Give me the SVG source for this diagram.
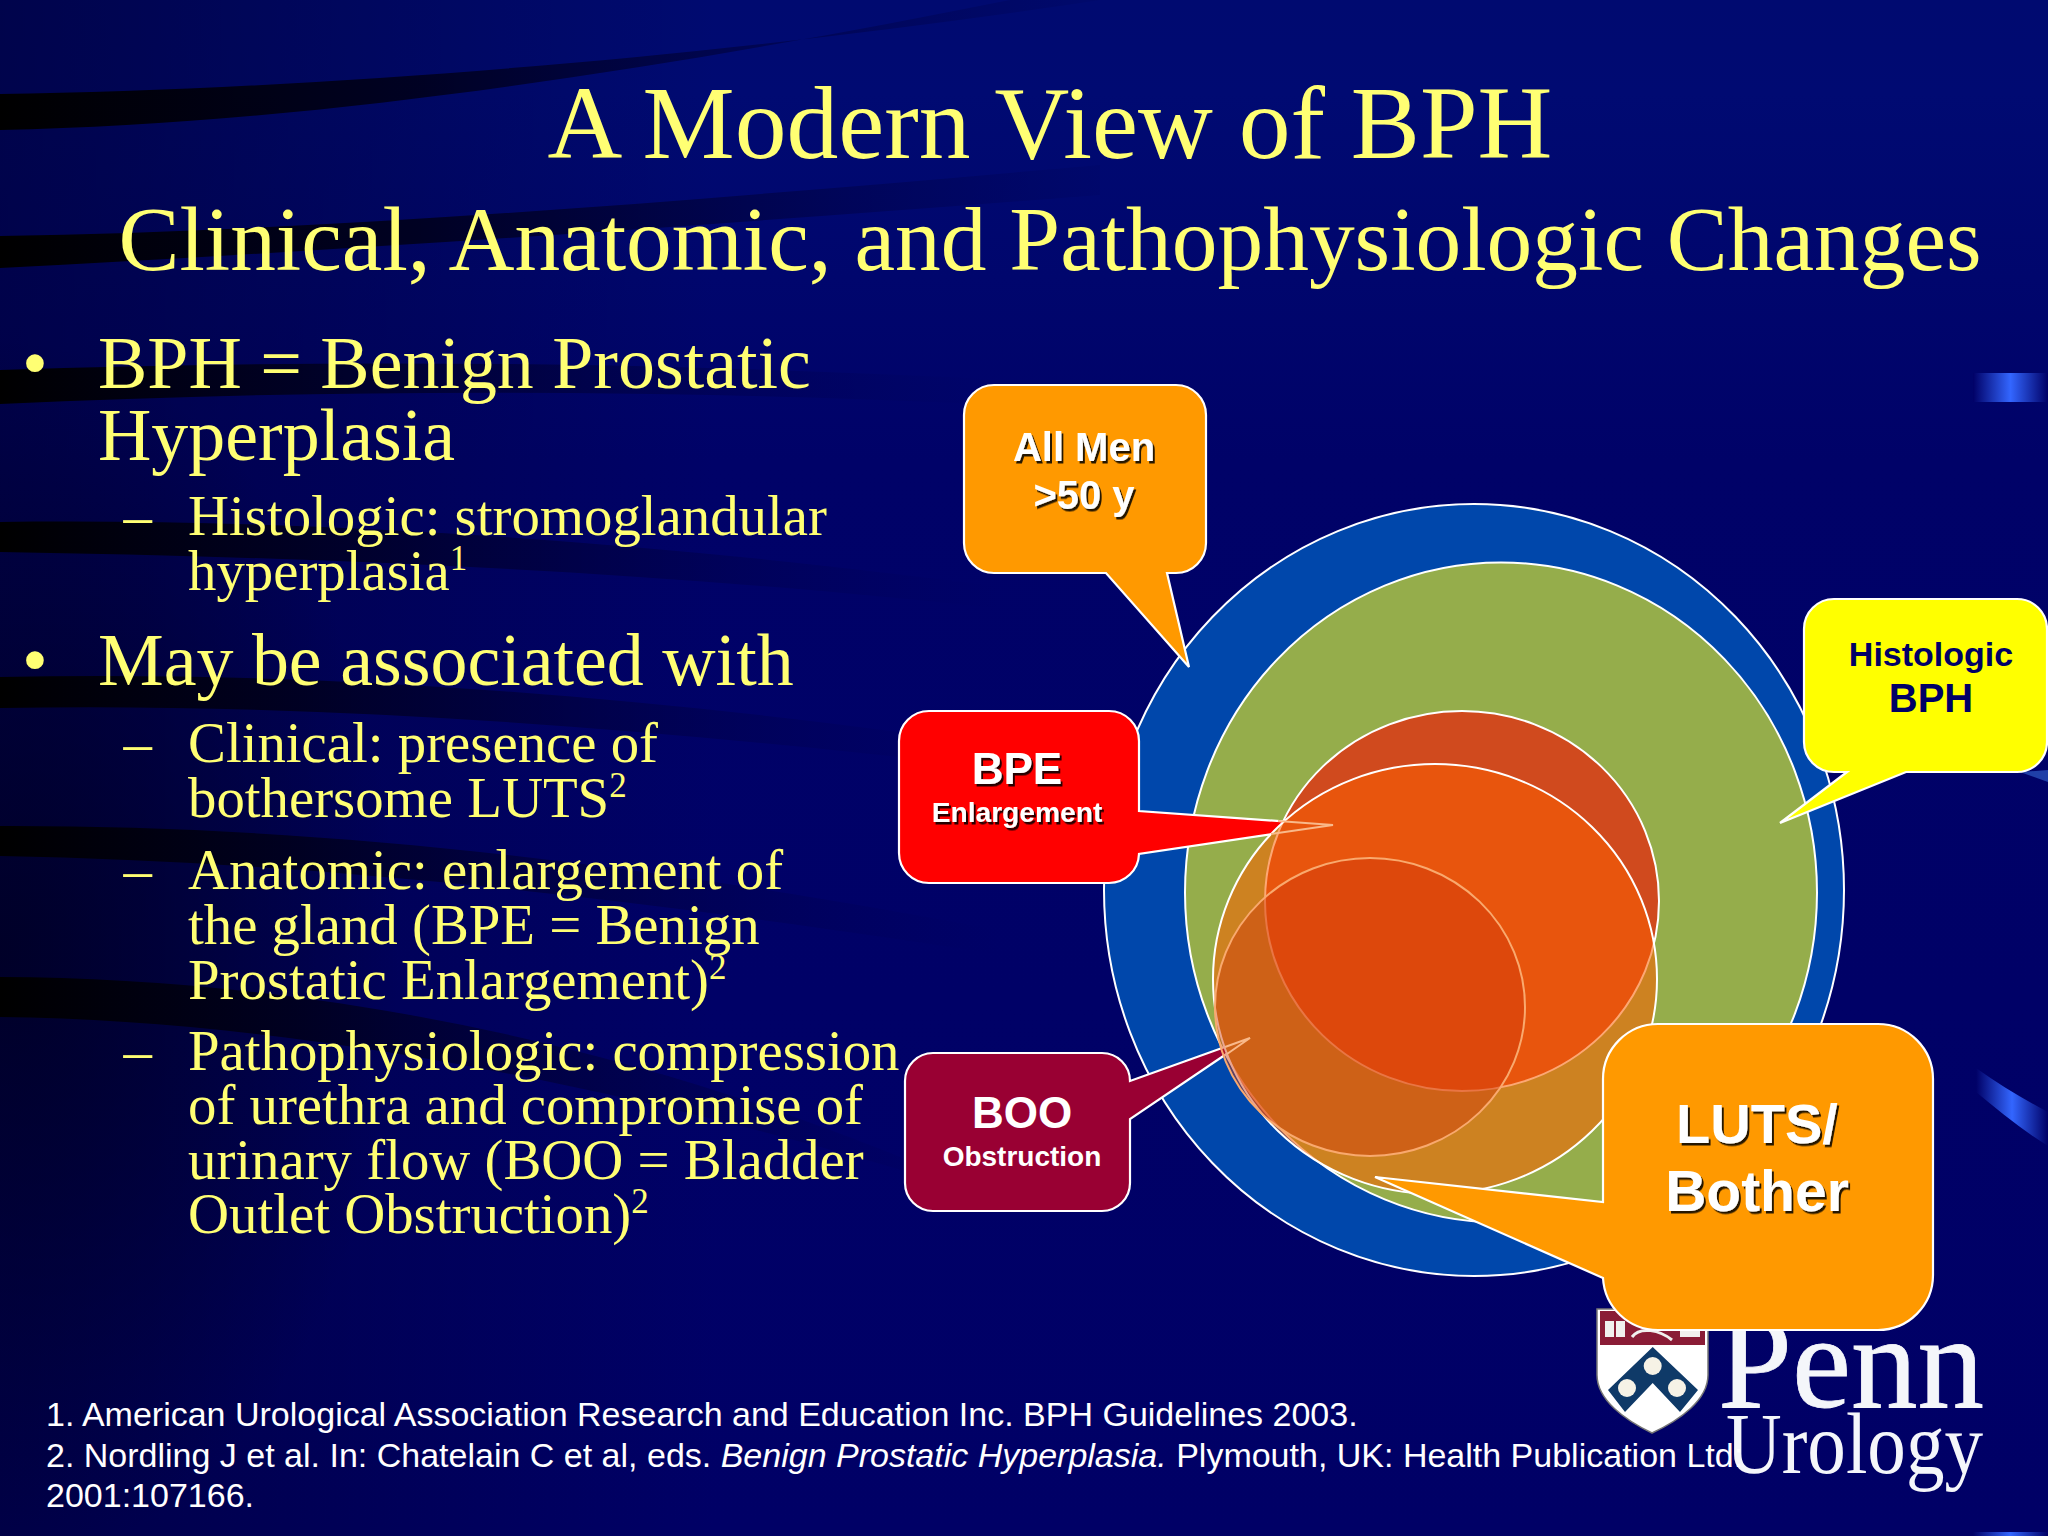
<svg xmlns="http://www.w3.org/2000/svg" width="2048" height="1536" viewBox="0 0 2048 1536">
<defs>
<linearGradient id="bgTop" x1="0" y1="0" x2="0" y2="1"><stop offset="0" stop-color="#000a70"/><stop offset="0.06" stop-color="#000a72"/><stop offset="0.3" stop-color="#000268"/><stop offset="1" stop-color="#000066"/></linearGradient>
<linearGradient id="leftShade" x1="0" y1="0" x2="1" y2="0"><stop offset="0" stop-color="#000038" stop-opacity="0.65"/><stop offset="0.35" stop-color="#000038" stop-opacity="0"/></linearGradient>
<linearGradient id="bandLong" gradientUnits="userSpaceOnUse" x1="0" y1="0" x2="1200" y2="0"><stop offset="0" stop-color="#000000"/><stop offset="0.35" stop-color="#000018" stop-opacity="0.85"/><stop offset="1" stop-color="#000050" stop-opacity="0"/></linearGradient>
<linearGradient id="band" gradientUnits="userSpaceOnUse" x1="0" y1="0" x2="1000" y2="0"><stop offset="0" stop-color="#000000"/><stop offset="0.3" stop-color="#000018" stop-opacity="0.8"/><stop offset="1" stop-color="#000050" stop-opacity="0"/></linearGradient>
<linearGradient id="barH" x1="0" y1="0" x2="1" y2="0"><stop offset="0" stop-color="#000066"/><stop offset="0.5" stop-color="#3366ff"/><stop offset="1" stop-color="#000066"/></linearGradient>
<radialGradient id="lowDark" cx="0" cy="0.62" r="0.4"><stop offset="0" stop-color="#000020" stop-opacity="0.8"/><stop offset="1" stop-color="#000020" stop-opacity="0"/></radialGradient>
<filter id="shadow" x="-10%" y="-10%" width="125%" height="130%"><feDropShadow dx="2" dy="2.5" stdDeviation="0.6" flood-color="#000" flood-opacity="0.85"/></filter>
<clipPath id="outsideLuts"><path clip-rule="evenodd" d="M0,0H2048V1536H0Z M1213,979 a222,215 0 1 0 444,0 a222,215 0 1 0 -444,0 Z"/></clipPath>
</defs>
<style>
.serif{font-family:"Liberation Serif","Times New Roman",serif;fill:#ffff73}
.t1{font-size:103.6px;text-anchor:middle}
.t2{font-size:91.4px;text-anchor:middle}
.b1{font-size:73.9px}
.b2{font-size:56.8px}
.sup{font-size:35px}
.lab{font-family:"Liberation Sans",Arial,sans-serif;font-weight:700;text-anchor:middle;fill:#fff}
.sh{filter:url(#shadow)}
.call{stroke:#fff;stroke-width:2.2;stroke-linejoin:miter}
.circ{stroke:#fff;stroke-width:2}
.foot{font-family:"Liberation Sans",Arial,sans-serif;font-size:34px;fill:#fff}
.tip{fill:none;stroke:#f9b98a;stroke-width:2;stroke-linejoin:miter}
.logo{font-family:"Liberation Serif","Times New Roman",serif;fill:#f4f6fa}
</style>
<g id="background">
<rect width="2048" height="1536" fill="url(#bgTop)"/>
<rect width="2048" height="1536" fill="url(#leftShade)"/>
<rect width="1000" height="1536" fill="url(#lowDark)"/>
<path fill="url(#bandLong)" d="M0,94C300,90 700,60 1100,0H1010C680,66 320,124 0,130Z"/>
<path fill="url(#bandLong)" d="M0,236C350,230 700,200 1100,165V195C700,226 350,250 0,268Z"/>
<path fill="url(#band)" d="M0,370C350,358 700,362 1100,385V410C700,388 350,388 0,404Z"/>
<path fill="url(#band)" d="M0,522C350,518 700,545 1100,600V620C700,572 350,558 0,552Z"/>
<path fill="url(#band)" d="M0,677C350,670 700,700 1100,760V780C700,732 350,702 0,708Z"/>
<path fill="url(#band)" d="M0,826C350,825 700,870 1100,950V970C700,907 350,862 0,856Z"/>
<path fill="url(#band)" d="M0,977C300,978 650,1040 1000,1200C650,1090 300,1020 0,1017Z"/>
<path fill="url(#barH)" d="M1973,373H2048V402H1973Z"/>
<path fill="url(#barH)" d="M1976,1068C2000,1085 2025,1100 2048,1112V1146C2022,1130 1998,1110 1976,1092Z"/>
<path fill="url(#barH)" d="M1973,1532H2048V1536H1973Z"/>
<path fill="#1f3fa8" d="M2020,772L2048,770V782Z"/>
</g>
<g id="title">
<text class="serif t1" x="1050" y="158">A Modern View of BPH</text>
<text class="serif t2" x="1050" y="270">Clinical, Anatomic, and Pathophysiologic Changes</text>
</g>
<g id="body">
<text class="serif b1" x="22" y="388">•</text>
<text class="serif b1" x="98" y="388">BPH = Benign Prostatic</text>
<text class="serif b1" x="98" y="460">Hyperplasia</text>
<text class="serif b2" x="123.5" y="535">–</text>
<text class="serif b2" x="188" y="535">Histologic: stromoglandular</text>
<text class="serif b2" x="188" y="590">hyperplasia<tspan class="sup" dy="-20">1</tspan></text>
<text class="serif b1" x="22" y="685">•</text>
<text class="serif b1" x="98" y="685">May be associated with</text>
<text class="serif b2" x="123.5" y="761.5">–</text>
<text class="serif b2" x="188" y="761.5">Clinical: presence of</text>
<text class="serif b2" x="188" y="816.5">bothersome LUTS<tspan class="sup" dy="-20">2</tspan></text>
<text class="serif b2" x="123.5" y="888.5">–</text>
<text class="serif b2" x="188" y="888.5">Anatomic: enlargement of</text>
<text class="serif b2" x="188" y="943.5">the gland (BPE = Benign</text>
<text class="serif b2" x="188" y="998.5">Prostatic Enlargement)<tspan class="sup" dy="-20">2</tspan></text>
<text class="serif b2" x="123.5" y="1069.5">–</text>
<text class="serif b2" x="188" y="1069.5">Pathophysiologic: compression</text>
<text class="serif b2" x="188" y="1124">of urethra and compromise of</text>
<text class="serif b2" x="188" y="1178.5">urinary flow (BOO = Bladder</text>
<text class="serif b2" x="188" y="1233">Outlet Obstruction)<tspan class="sup" dy="-20">2</tspan></text>
</g>
<g id="logo">
<path fill="#fff" stroke="#777" stroke-width="1.5" d="M1597,1309H1708V1375C1708,1400 1680,1420 1652,1433C1625,1420 1597,1400 1597,1375Z"/>
<rect x="1600" y="1311" width="105" height="34" fill="#8a1c36"/>
<rect x="1605" y="1321" width="9" height="16" fill="#f0f0ee"/>
<rect x="1616" y="1321" width="9" height="16" fill="#f0f0ee"/>
<rect x="1680" y="1328" width="20" height="9" fill="#f0f0ee"/>
<path d="M1632,1337C1640,1326 1660,1330 1672,1340" fill="none" stroke="#f0f0ee" stroke-width="3"/>
<path fill="#0f3a68" d="M1652.7,1347L1698,1390L1680,1412L1652.7,1383L1625,1412L1608,1390Z"/>
<circle cx="1652.7" cy="1366" r="9" fill="#f6f2e6"/>
<circle cx="1627" cy="1388" r="9" fill="#f6f2e6"/>
<circle cx="1677" cy="1388" r="9" fill="#f6f2e6"/>
<text class="logo" x="1718" y="1407" font-size="133" stroke="#f4f6fa" stroke-width="0.8">Penn</text>
<text class="logo" x="1726" y="1473" font-size="86" textLength="257" lengthAdjust="spacingAndGlyphs">Urology</text>
</g>
<g id="footnotes">
<text class="foot" x="46" y="1426">1. American Urological Association Research and Education Inc. BPH Guidelines 2003.</text>
<text class="foot" x="46" y="1467">2. Nordling J et al. In: Chatelain C et al, eds. <tspan font-style="italic">Benign Prostatic Hyperplasia.</tspan> Plymouth, UK: Health Publication Ltd:</text>
<text class="foot" x="46" y="1507">2001:107166.</text>
</g>
<g id="circle-all-men"><ellipse class="circ" cx="1474" cy="890" rx="370" ry="386" fill="#0047ab"/></g>
<g id="circle-histologic"><ellipse class="circ" cx="1501" cy="892.5" rx="316" ry="330" fill="#95ad4b"/></g>
<g id="circle-bpe"><ellipse class="circ" cx="1462" cy="901" rx="197" ry="190" fill="#d04a1e"/></g>
<g id="callout-bpe">
<path class="call" clip-path="url(#outsideLuts)" fill="#ff0000" d="M929,711H1109A30,30 0 0 1 1139,741V811L1333,825L1139,854A30,30 0 0 1 1109,883H929A30,30 0 0 1 899,853V741A30,30 0 0 1 929,711Z"/>
<text class="lab sh" x="1017" y="784" font-size="44">BPE</text>
<text class="lab sh" x="1017" y="822" font-size="28.2">Enlargement</text>
</g>
<g id="callout-boo">
<path class="call" clip-path="url(#outsideLuts)" fill="#990033" d="M933,1053H1102A28,28 0 0 1 1130,1081L1250,1038L1130,1119V1183A28,28 0 0 1 1102,1211H933A28,28 0 0 1 905,1183V1081A28,28 0 0 1 933,1053Z"/>
<text class="lab" x="1022" y="1128" font-size="44">BOO</text>
<text class="lab" x="1022" y="1166" font-size="28">Obstruction</text>
</g>
<g id="circle-luts"><ellipse class="circ" cx="1435" cy="979" rx="222" ry="215" fill="#fb5f00" fill-opacity="0.55"/></g>
<g id="circle-boo"><ellipse cx="1370" cy="1007" rx="155" ry="149" fill="#d03a0a" fill-opacity="0.45" stroke="#f9a96e" stroke-width="2"/></g>
<g id="callout-tips">
<polyline class="tip" points="1278,821 1333,825 1271,834"/>
<polyline class="tip" points="1225,1047 1250,1038 1227,1054"/>
</g>
<g id="callout-all-men">
<path class="call" fill="#ff9900" d="M994,385H1176A30,30 0 0 1 1206,415V543A30,30 0 0 1 1176,573H1167L1189,667L1106,573H994A30,30 0 0 1 964,543V415A30,30 0 0 1 994,385Z"/>
<text class="lab sh" x="1084" y="461" font-size="40">All Men</text>
<text class="lab sh" x="1084" y="509" font-size="40">&gt;50 y</text>
</g>
<g id="callout-histologic">
<path class="call" fill="#ffff00" d="M1834,599H2017A30,30 0 0 1 2047,629V742A30,30 0 0 1 2017,772H1906L1780,823L1847,772H1834A30,30 0 0 1 1804,742V629A30,30 0 0 1 1834,599Z"/>
<text class="lab" style="fill:#000066" x="1931" y="666" font-size="34">Histologic</text>
<text class="lab" style="fill:#000066" x="1931" y="712" font-size="40">BPH</text>
</g>
<g id="callout-luts">
<path class="call" fill="#ff9900" d="M1658,1024H1878A55,55 0 0 1 1933,1079V1275A55,55 0 0 1 1878,1330H1658A55,55 0 0 1 1603,1278L1375,1177L1603,1202V1079A55,55 0 0 1 1658,1024Z"/>
<text class="lab sh" x="1757" y="1142.5" font-size="56">LUTS/</text>
<text class="lab sh" x="1757" y="1211" font-size="57">Bother</text>
</g>
<g id="connectors"></g>
</svg>
